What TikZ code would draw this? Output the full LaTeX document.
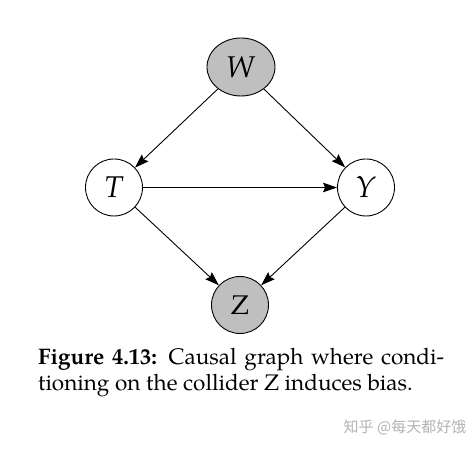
\documentclass[tikz,border=0pt]{standalone}
\usepackage{mathpazo}
\usepackage{fontspec}
\setmainfont{TeX Gyre Pagella}
\newfontfamily\cjkfont{Noto Sans CJK SC}
\usetikzlibrary{shapes.geometric,arrows.meta}
\begin{document}
\begin{tikzpicture}[x=1pt,y=1pt,
  var/.style={circle,draw,line width=0.9pt,minimum size=57pt,inner sep=0pt,font=\fontsize{30}{36}\selectfont},
  obs/.style={fill=black!25},
  edge/.style={line width=0.9pt,-{Stealth[length=14pt,width=9.5pt,inset=2pt]}}]
\useasboundingbox (0,0) rectangle (476,449);
\node[var,obs,ellipse,minimum width=68pt,minimum height=58pt] (W) at (241,382) {$W$};
\node[var] (T) at (114,261.5) {$T$};
\node[var] (Y) at (366,261.5) {$Y$};
\node[var,obs,font=\fontsize{27}{32}\selectfont] (Z) at (240,144) {Z};
\draw[edge] (W) -- (T);
\draw[edge] (W) -- (Y);
\draw[edge] (T) -- (Y);
\draw[edge] (T) -- (Z);
\draw[edge] (Y) -- (Z);
\node[anchor=north west,inner sep=0pt,text width=406pt,align=justify,
  font=\fontsize{22.5}{26}\selectfont] (cap) at (38,101)
  {\textbf{Figure 4.13:} Causal graph where condi-\linebreak tioning on the collider Z induces bias.};
\node[anchor=center,inner sep=0pt,text=black!30,font=\cjkfont\fontsize{15}{17}\selectfont] (wm) at (405,22) {知乎 @每天都好饿};
\end{tikzpicture}
\end{document}
